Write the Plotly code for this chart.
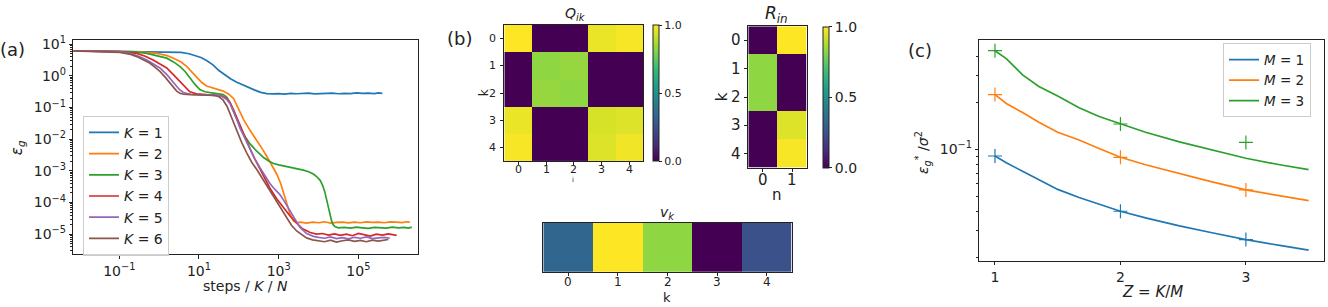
import plotly.graph_objects as go

W, H = 1328, 307
FONT = "DejaVu Sans"
INK = "#222222"


def px(x):
    return x / W


def py(y):
    return 1 - y / H


# ---------------- panel (a): generalisation error vs time (log10 values) ----------------
k1_lx = [-2.15, -1.5, -1.0, -0.5, 0.0, 0.3, 0.55, 0.75, 0.9, 1.05, 1.2, 1.35, 1.5, 1.65, 1.8, 1.95,
         2.1, 2.25, 2.4, 2.55, 2.7, 2.85, 3.0, 3.15, 3.3, 3.45, 3.6, 3.75, 3.9, 4.05, 4.2, 4.35,
         4.5, 4.65, 4.8, 4.95, 5.1, 5.25, 5.4, 5.5, 5.6]
k1_ly = [0.79, 0.78, 0.78, 0.77, 0.77, 0.76, 0.74, 0.70, 0.65, 0.58, 0.48, 0.35, 0.17, 0.02, -0.10, -0.20,
         -0.29, -0.37, -0.45, -0.52, -0.56, -0.57, -0.56, -0.575, -0.55, -0.565, -0.56, -0.545, -0.57, -0.555, -0.56, -0.545,
         -0.565, -0.55, -0.56, -0.54, -0.555, -0.545, -0.56, -0.535, -0.55]

k2_lx = [-2.15, -1.5, -1.0, -0.5, -0.06, 0.2, 0.36, 0.55, 0.69, 0.82, 0.94, 1.07, 1.19, 1.4, 1.61, 1.75,
         1.87, 1.95, 2.03, 2.12, 2.28, 2.45, 2.6, 2.7, 2.85, 2.95, 3.05, 3.12, 3.2, 3.28, 3.37, 3.45,
         3.55, 3.7, 3.85, 4.0, 4.15, 4.3, 4.45, 4.6, 4.75, 4.9, 5.05, 5.2, 5.35, 5.5, 5.65, 5.8,
         5.95, 6.1, 6.2, 6.29]
k2_ly = [0.79, 0.78, 0.78, 0.76, 0.71, 0.64, 0.56, 0.44, 0.30, 0.12, -0.06, -0.21, -0.32, -0.40, -0.48, -0.58,
         -0.72, -0.93, -1.15, -1.38, -1.72, -2.03, -2.33, -2.54, -2.85, -3.10, -3.40, -3.70, -4.00, -4.35, -4.58, -4.64,
         -4.62, -4.65, -4.62, -4.64, -4.61, -4.65, -4.63, -4.62, -4.645, -4.62, -4.64, -4.61, -4.63, -4.62, -4.64, -4.61,
         -4.62, -4.635, -4.61, -4.62]

k3_lx = [-2.15, -1.5, -1.0, -0.6, -0.31, 0.0, 0.19, 0.35, 0.52, 0.65, 0.77, 0.9, 1.02, 1.15, 1.28, 1.45,
         1.61, 1.7, 1.78, 1.87, 1.95, 2.03, 2.12, 2.2, 2.28, 2.45, 2.62, 2.75, 2.87, 3.0, 3.12, 3.25,
         3.37, 3.5, 3.62, 3.75, 3.87, 3.95, 4.04, 4.1, 4.16, 4.21, 4.25, 4.29, 4.33, 4.37, 4.42, 4.5,
         4.65, 4.8, 4.95, 5.1, 5.25, 5.4, 5.55, 5.7, 5.85, 6.0, 6.15, 6.25, 6.34]
k3_ly = [0.79, 0.78, 0.78, 0.76, 0.71, 0.63, 0.56, 0.45, 0.30, 0.14, -0.06, -0.27, -0.43, -0.50, -0.53, -0.56,
         -0.59, -0.68, -0.85, -1.12, -1.40, -1.62, -1.85, -2.00, -2.15, -2.38, -2.58, -2.69, -2.77, -2.81, -2.84, -2.87,
         -2.90, -2.94, -2.98, -3.03, -3.10, -3.18, -3.30, -3.45, -3.68, -3.95, -4.20, -4.45, -4.60, -4.71, -4.77, -4.80,
         -4.79, -4.81, -4.78, -4.80, -4.82, -4.79, -4.80, -4.81, -4.78, -4.80, -4.79, -4.81, -4.78]

k4_lx = [-2.15, -1.5, -1.0, -0.56, -0.35, -0.15, 0.02, 0.19, 0.35, 0.52, 0.65, 0.77, 0.94, 1.2, 1.45, 1.58,
         1.7, 1.78, 1.87, 1.95, 2.03, 2.15, 2.28, 2.4, 2.53, 2.65, 2.78, 2.95, 3.12, 3.28, 3.45, 3.6,
         3.79, 3.95, 4.1, 4.25, 4.4, 4.55, 4.7, 4.85, 5.0, 5.15, 5.3, 5.45, 5.6, 5.75, 5.88, 5.96]
k4_ly = [0.79, 0.78, 0.77, 0.71, 0.62, 0.50, 0.38, 0.25, 0.05, -0.17, -0.36, -0.50, -0.57, -0.59, -0.61, -0.64,
         -0.72, -0.85, -1.08, -1.32, -1.58, -1.95, -2.30, -2.62, -2.94, -3.25, -3.55, -3.88, -4.15, -4.42, -4.65, -4.83,
         -4.95, -5.00, -4.98, -5.03, -4.99, -5.04, -5.00, -5.05, -4.98, -5.02, -5.06, -5.00, -5.03, -4.99, -5.02, -5.04]

k5_lx = [-2.15, -1.5, -1.0, -0.73, -0.5, -0.31, -0.15, 0.02, 0.2, 0.36, 0.5, 0.61, 0.78, 1.0, 1.2, 1.45,
         1.58, 1.7, 1.78, 1.87, 1.95, 2.03, 2.15, 2.28, 2.4, 2.53, 2.65, 2.78, 2.9, 3.03, 3.15, 3.28,
         3.4, 3.53, 3.7, 3.87, 4.0, 4.15, 4.3, 4.45, 4.6, 4.75, 4.9, 5.05, 5.2, 5.35, 5.5, 5.65, 5.79]
k5_ly = [0.79, 0.78, 0.77, 0.71, 0.61, 0.50, 0.38, 0.25, 0.03, -0.22, -0.42, -0.53, -0.58, -0.59, -0.60, -0.61,
         -0.65, -0.75, -0.88, -1.12, -1.38, -1.65, -1.98, -2.32, -2.62, -2.90, -3.15, -3.40, -3.58, -3.75, -3.98, -4.25,
         -4.52, -4.78, -4.98, -5.07, -5.10, -5.13, -5.09, -5.14, -5.11, -5.15, -5.10, -5.13, -5.09, -5.14, -5.12, -5.10, -5.13]

k6_lx = [-2.15, -1.5, -0.98, -0.75, -0.56, -0.4, -0.23, -0.1, 0.02, 0.15, 0.27, 0.36, 0.44, 0.52, 0.61, 0.8,
         1.0, 1.2, 1.4, 1.5, 1.6, 1.7, 1.78, 1.87, 1.95, 2.07, 2.2, 2.32, 2.45, 2.58, 2.7, 2.82,
         2.95, 3.08, 3.2, 3.32, 3.45, 3.58, 3.7, 3.85, 4.0, 4.15, 4.3, 4.45, 4.6, 4.75, 4.9, 5.05,
         5.2, 5.35, 5.5, 5.65, 5.75]
k6_ly = [0.79, 0.77, 0.74, 0.69, 0.61, 0.51, 0.40, 0.27, 0.14, -0.04, -0.22, -0.36, -0.48, -0.55, -0.58, -0.595,
         -0.60, -0.61, -0.62, -0.66, -0.76, -0.95, -1.20, -1.48, -1.75, -2.10, -2.44, -2.72, -2.96, -3.22, -3.48, -3.73,
         -3.99, -4.25, -4.50, -4.72, -4.90, -5.02, -5.12, -5.18, -5.20, -5.24, -5.19, -5.25, -5.21, -5.18, -5.23, -5.20,
         -5.24, -5.19, -5.22, -5.20, -5.17]

k_labels = ["<i>K</i> = 1", "<i>K</i> = 2", "<i>K</i> = 3", "<i>K</i> = 4", "<i>K</i> = 5", "<i>K</i> = 6"]
k_colors = ["#1f77b4", "#ff7f0e", "#2ca02c", "#d62728", "#9467bd", "#8c564b"]

# ---------------- panel (b): overlap matrices ----------------
Q_ik = [[1.00, 0.00, 0.00, 0.97, 0.99],
        [0.00, 0.83, 0.84, 0.00, 0.00],
        [0.00, 0.84, 0.83, 0.00, 0.00],
        [0.97, 0.00, 0.00, 0.94, 0.95],
        [0.99, 0.00, 0.00, 0.95, 0.98]]
R_in = [[0.00, 1.00],
        [0.83, 0.00],
        [0.83, 0.00],
        [0.00, 0.95],
        [0.00, 0.99]]
v_k = [[0.33, 1.00, 0.83, 0.00, 0.25]]
idx5 = [0, 1, 2, 3, 4]
idx2 = [0, 1]

# ---------------- panel (c): asymptotic error vs Z ----------------
Z_line = [1.0, 1.09, 1.22, 1.35, 1.5, 1.67, 1.83, 2.0, 2.2, 2.47, 2.73, 3.0, 3.27, 3.5]
eps_m1 = [0.0907, 0.0820, 0.0723, 0.0640, 0.0552, 0.0490, 0.0444, 0.0399, 0.0362, 0.0321, 0.0290, 0.0262, 0.0240, 0.0224]
eps_m2 = [0.226, 0.198, 0.173, 0.150, 0.129, 0.115, 0.1015, 0.089, 0.0796, 0.0698, 0.0618, 0.0548, 0.0502, 0.0467]
eps_m3 = [0.434, 0.386, 0.303, 0.255, 0.221, 0.186, 0.163, 0.146, 0.129, 0.112, 0.099, 0.0877, 0.0796, 0.074]
Z_sim = [1, 2, 3]
sim_m1 = [0.0907, 0.0399, 0.0262]
sim_m2 = [0.226, 0.089, 0.0548]
sim_m3 = [0.434, 0.146, 0.111]
m_labels = ["<i>M</i> = 1", "<i>M</i> = 2", "<i>M</i> = 3"]
m_colors = ["#1f77b4", "#ff7f0e", "#2ca02c"]

fig = go.Figure()

# panel (a) lines
for lx, ly, lab, col in zip([k1_lx, k2_lx, k3_lx, k4_lx, k5_lx, k6_lx],
                            [k1_ly, k2_ly, k3_ly, k4_ly, k5_ly, k6_ly], k_labels, k_colors):
    fig.add_trace(go.Scatter(x=[10 ** v for v in lx], y=[10 ** v for v in ly], mode="lines",
                             line=dict(color=col, width=1.7), name=lab, xaxis="x", yaxis="y",
                             legend="legend"))

cb_common = dict(thickness=6, thicknessmode="pixels", xpad=0, ypad=0, outlinewidth=1,
                 outlinecolor=INK, tickvals=[0, 0.5, 1], ticktext=["0.0", "0.5", "1.0"],
                 ticks="outside", ticklen=3, tickcolor=INK, xanchor="left", yanchor="bottom",
                 lenmode="fraction")

fig.add_trace(go.Heatmap(z=Q_ik, x=idx5, y=idx5, colorscale="Viridis", zmin=0, zmax=1,
                         xaxis="x2", yaxis="y2", showscale=True,
                         colorbar=dict(cb_common, x=px(653.3), y=py(158.3), len=(158.3 - 19.3) / H,
                                       tickfont=dict(size=11, family=FONT, color=INK))))
fig.add_trace(go.Heatmap(z=R_in, x=idx2, y=idx5, colorscale="Viridis", zmin=0, zmax=1,
                         xaxis="x3", yaxis="y3", showscale=True,
                         colorbar=dict(cb_common, x=px(822.7), y=py(165), len=(165 - 20.7) / H,
                                       tickfont=dict(size=14, family=FONT, color=INK))))
fig.add_trace(go.Heatmap(z=v_k, x=idx5, y=[0], colorscale="Viridis", zmin=0, zmax=1,
                         xaxis="x4", yaxis="y4", showscale=False))

# panel (c)
for ys, lab, col in zip([eps_m1, eps_m2, eps_m3], m_labels, m_colors):
    fig.add_trace(go.Scatter(x=Z_line, y=ys, mode="lines", line=dict(color=col, width=1.7),
                             name=lab, xaxis="x5", yaxis="y5", legend="legend2"))
for ys, col in zip([sim_m1, sim_m2, sim_m3], m_colors):
    fig.add_trace(go.Scatter(x=Z_sim, y=ys, mode="markers", showlegend=False,
                             marker=dict(symbol="cross-thin", size=10, color=col,
                                         line=dict(width=1.2, color=col)),
                             xaxis="x5", yaxis="y5"))


def frame(**kw):
    d = dict(showline=True, linecolor=INK, linewidth=1, mirror=True, showgrid=False,
             zeroline=False, ticks="outside", ticklen=3.5, tickcolor=INK, tickwidth=1,
             tickfont=dict(family=FONT, size=14, color=INK))
    d.update(kw)
    return d


def sup(e):
    return "10<sup>" + str(e).replace("-", "\u2212") + "</sup>"


a_y_major = [10.0 ** e for e in range(-5, 2)]
a_y_minor = [m * 10.0 ** e for e in range(-6, 1) for m in range(2, 10)]
c_y_minor = [m * 10.0 ** e for e in (-2, -1) for m in range(2, 10)]
c_y_minor = [v for v in c_y_minor if v < 0.45 and v != 0.1]

fig.update_layout(
    width=W, height=H, margin=dict(l=0, r=0, t=0, b=0),
    paper_bgcolor="white", plot_bgcolor="white",
    font=dict(family=FONT, color=INK),
    xaxis=frame(domain=[px(73.3), px(417.7)], type="log", range=[-2.154, 6.488], anchor="y",
                tickmode="array", tickvals=[0.1, 10, 1e3, 1e5], ticktext=[sup(e) for e in (-1, 1, 3, 5)]),
    yaxis=frame(domain=[py(253.3), py(35)], type="log", range=[-5.639, 1.124], anchor="x",
                tickmode="array", tickvals=a_y_major, ticktext=[sup(e) for e in range(-5, 2)],
                minor=dict(tickmode="array", tickvals=a_y_minor, ticks="outside", ticklen=2,
                           tickcolor=INK, tickwidth=1)),
    xaxis2=frame(domain=[px(504.3), px(643.3)], range=[-0.5, 4.5], anchor="y2",
                 tickmode="array", tickvals=idx5, showticklabels=False, ticklen=3),
    yaxis2=frame(domain=[py(158.3), py(19.3)], range=[4.5, -0.5], anchor="x2",
                 tickmode="array", tickvals=idx5, showticklabels=False, ticklen=3),
    xaxis3=frame(domain=[px(748.3), px(806.7)], range=[-0.5, 1.5], anchor="y3",
                 tickmode="array", tickvals=idx2, showticklabels=False, ticklen=3),
    yaxis3=frame(domain=[py(165), py(20.7)], range=[4.5, -0.5], anchor="x3",
                 tickmode="array", tickvals=idx5, showticklabels=False, ticklen=3),
    xaxis4=frame(domain=[px(543.3), px(791.7)], range=[-0.5, 4.5], anchor="y4",
                 tickmode="array", tickvals=idx5, showticklabels=False, ticklen=3),
    yaxis4=frame(domain=[py(271), py(221.3)], range=[0.5, -0.5], anchor="x4",
                 showticklabels=False, ticks=""),
    xaxis5=frame(domain=[px(979.3), px(1324.3)], range=[0.875, 3.625], anchor="y5",
                 tickmode="array", tickvals=[1, 2, 3]),
    yaxis5=frame(domain=[py(260), py(35)], type="log", range=[-1.7196, -0.2956], anchor="x5",
                 tickmode="array", tickvals=[0.1], ticktext=[sup(-1)],
                 minor=dict(tickmode="array", tickvals=c_y_minor, ticks="outside", ticklen=2,
                            tickcolor=INK, tickwidth=1)),
    legend=dict(x=px(83), y=py(112), xanchor="left", yanchor="top",
                bgcolor="rgba(255,255,255,0.8)", bordercolor="#cccccc", borderwidth=1,
                font=dict(family=FONT, size=14, color=INK), itemwidth=30, tracegroupgap=0),
    legend2=dict(x=px(1223), y=py(38), xanchor="left", yanchor="top",
                 bgcolor="rgba(255,255,255,0.8)", bordercolor="#cccccc", borderwidth=1,
                 font=dict(family=FONT, size=13.5, color=INK), itemwidth=30, tracegroupgap=0),
    showlegend=True,
)


def note(text, x, y, size, angle=0, xref="paper", yref="paper", xanchor="center", **kw):
    fig.add_annotation(text=text, x=x, y=y, xref=xref, yref=yref, showarrow=False,
                       textangle=angle, font=dict(family=FONT, size=size, color=INK),
                       xanchor=xanchor, yanchor="middle", **kw)


# heatmap tick labels, placed on the heatmap axes
for i in idx5:
    note(str(i), i, py(167), 11, xref="x2")
    note(str(i), px(498), i, 11, yref="y2", xanchor="right")
    note(str(i), px(743), i, 15, yref="y3", xanchor="right")
    note(str(i), i, py(282), 12, xref="x4")
for i in idx2:
    note(str(i), i, py(177), 15, xref="x3")

note("(a)", px(12), py(44), 18)
note("(b)", px(460), py(33), 18)
note("(c)", px(920), py(45), 18)
note("<i>ε</i><sub><i>g</i></sub>", px(17), py(145), 15, -90)
note("steps / <i>K</i> / <i>N</i>", px(245), py(286), 14)
note("<i>Q</i><sub><i>ik</i></sub>", px(575), py(8), 14)
note("k", px(484), py(89), 12, -90)
note("i", px(573), py(177), 7)
note("<i>R</i><sub><i>in</i></sub>", px(777), py(9), 17)
note("k", px(722), py(93), 15, -90)
note("n", px(777), py(193), 15)
note("<i>v</i><sub><i>k</i></sub>", px(667), py(211), 14)
note("k", px(667), py(297), 13)
note("<i>ε</i><sub><i>g</i></sub><sup>*</sup> /<i>σ</i><sup>2</sup>", px(923), py(150), 14, -90)
note("<i>Z</i> = <i>K</i>/<i>M</i>", px(1152), py(292), 15)

fig.write_html("out.html", post_script="document.body.style.margin='0px';",
               config={"displayModeBar": False})
